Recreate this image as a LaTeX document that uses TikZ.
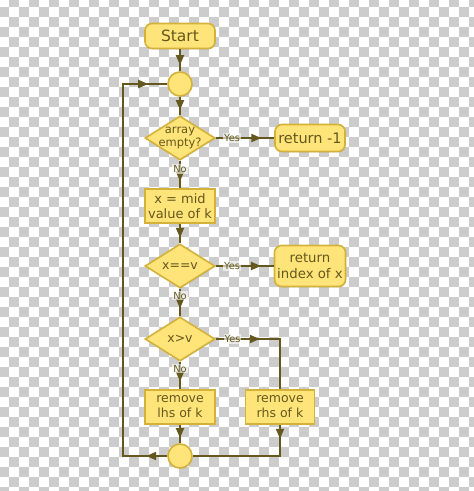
\documentclass[tikz,border=0pt]{standalone}
\usepackage{fontspec}
\setmainfont{DejaVu Sans}
\usetikzlibrary{shapes.geometric,arrows.meta,decorations.markings,shadows}
\definecolor{chkgray}{RGB}{204,204,204}
\definecolor{boxfill}{RGB}{255,228,122}
\definecolor{boxline}{RGB}{212,178,58}
\definecolor{flowline}{RGB}{100,88,30}
\tikzset{
  base/.style={draw=boxline, line width=1.6pt, fill=boxfill, text=flowline, align=center,
    drop shadow={shadow xshift=0.8pt, shadow yshift=-1pt, opacity=0.2}},
  terminal/.style={base, rectangle, rounded corners=7pt, minimum width=70pt, minimum height=25pt},
  process/.style={base, rectangle, minimum width=70pt, minimum height=34pt},
  decision/.style={base, diamond, aspect=1.6, inner sep=0pt, minimum width=70pt, minimum height=44pt},
  joint/.style={base, circle, minimum size=24pt, inner sep=0pt},
  conn/.style={draw=flowline, line width=2pt},
  arrowat/.style={postaction={decorate, decoration={markings,
    mark=at position #1 with {\arrow[flowline]{Triangle[length=10pt 0 0,width=8pt 0 0]}}}}},
  lbl/.style={fill=white, fill opacity=0.6, text opacity=1, text=flowline, inner sep=1pt,
    font=\fontsize{9.8}{11}\selectfont}
}
\begin{document}
\begin{tikzpicture}[x=1pt,y=1pt]
\useasboundingbox (0,0) rectangle (474,-491);
\begin{scope}
\clip (0,0) rectangle (474,-491);
\fill[white] (0,0) rectangle (474,-491);
\foreach \r in {0,...,49}{
  \pgfmathtruncatemacro\off{mod(\r+1,2)}
  \foreach \c in {0,2,...,48}{
    \fill[chkgray] ({(\c+\off)*10-0.7},{2.7-\r*10}) rectangle ++(10,-10);
  }
}
\end{scope}

\node[terminal, font=\fontsize{15.5}{17}\selectfont] (start) at (180,-36) {Start};
\node[joint] (join1) at (180,-84) {};
\node[decision, inner xsep=-4pt, inner ysep=-2pt, font=\fontsize{11.5}{13}\selectfont] (empty) at (180,-138) {array\\empty?};
\node[terminal, minimum height=27pt, font=\fontsize{14.5}{16}\selectfont] (ret1) at (310,-138) {return -1};
\node[process, font=\fontsize{13}{15}\selectfont] (mid) at (180,-206) {x = mid\\value of k};
\node[decision, font=\fontsize{12.5}{14}\selectfont] (eq) at (180,-266) {x==v};
\node[terminal, minimum width=71pt, minimum height=41pt, inner xsep=1.5pt, font=\fontsize{13.3}{15.5}\selectfont] (retx) at (310,-266) {return\\index of x};
\node[decision, font=\fontsize{12.5}{14}\selectfont] (gt) at (180,-339) {x>v};
\node[process, font=\fontsize{12.5}{15}\selectfont] (lhs) at (180,-407) {remove\\lhs of k};
\node[process, minimum width=69pt, font=\fontsize{12.5}{15}\selectfont] (rhs) at (280,-407) {remove\\rhs of k};
\node[joint] (join2) at (180,-456) {};
\coordinate (loopleft) at (123,-270);

\draw[conn, arrowat=0.72] (start) -- (join1);
\draw[conn, arrowat=0.72] (join1) -- (empty);
\draw[conn, arrowat=0.78] (empty) -- node[lbl, pos=0.28] {Yes} (ret1);
\draw[conn, arrowat=0.75] (empty) -- node[lbl, pos=0.3] {No} (mid);
\draw[conn, arrowat=0.72] (mid) -- (eq);
\draw[conn, arrowat=0.78] (eq) -- node[lbl, pos=0.28] {Yes} (retx);
\draw[conn, arrowat=0.72] (eq) -- node[lbl, pos=0.25] {No} (gt);
\draw[conn, arrowat=44pt] (gt.east) -| node[lbl, pos=0.13] {Yes} (rhs.north);
\draw[conn, arrowat=0.72] (gt) -- node[lbl, pos=0.25] {No} (lhs);
\draw[conn, arrowat=0.72] (lhs) -- (join2);
\draw[conn, arrowat=14pt] (rhs.south) |- (join2.east);
\draw[conn, arrowat=21pt, arrowat=-19pt] (join2.west) -| (loopleft) |- (join1.west);
\end{tikzpicture}
\end{document}
